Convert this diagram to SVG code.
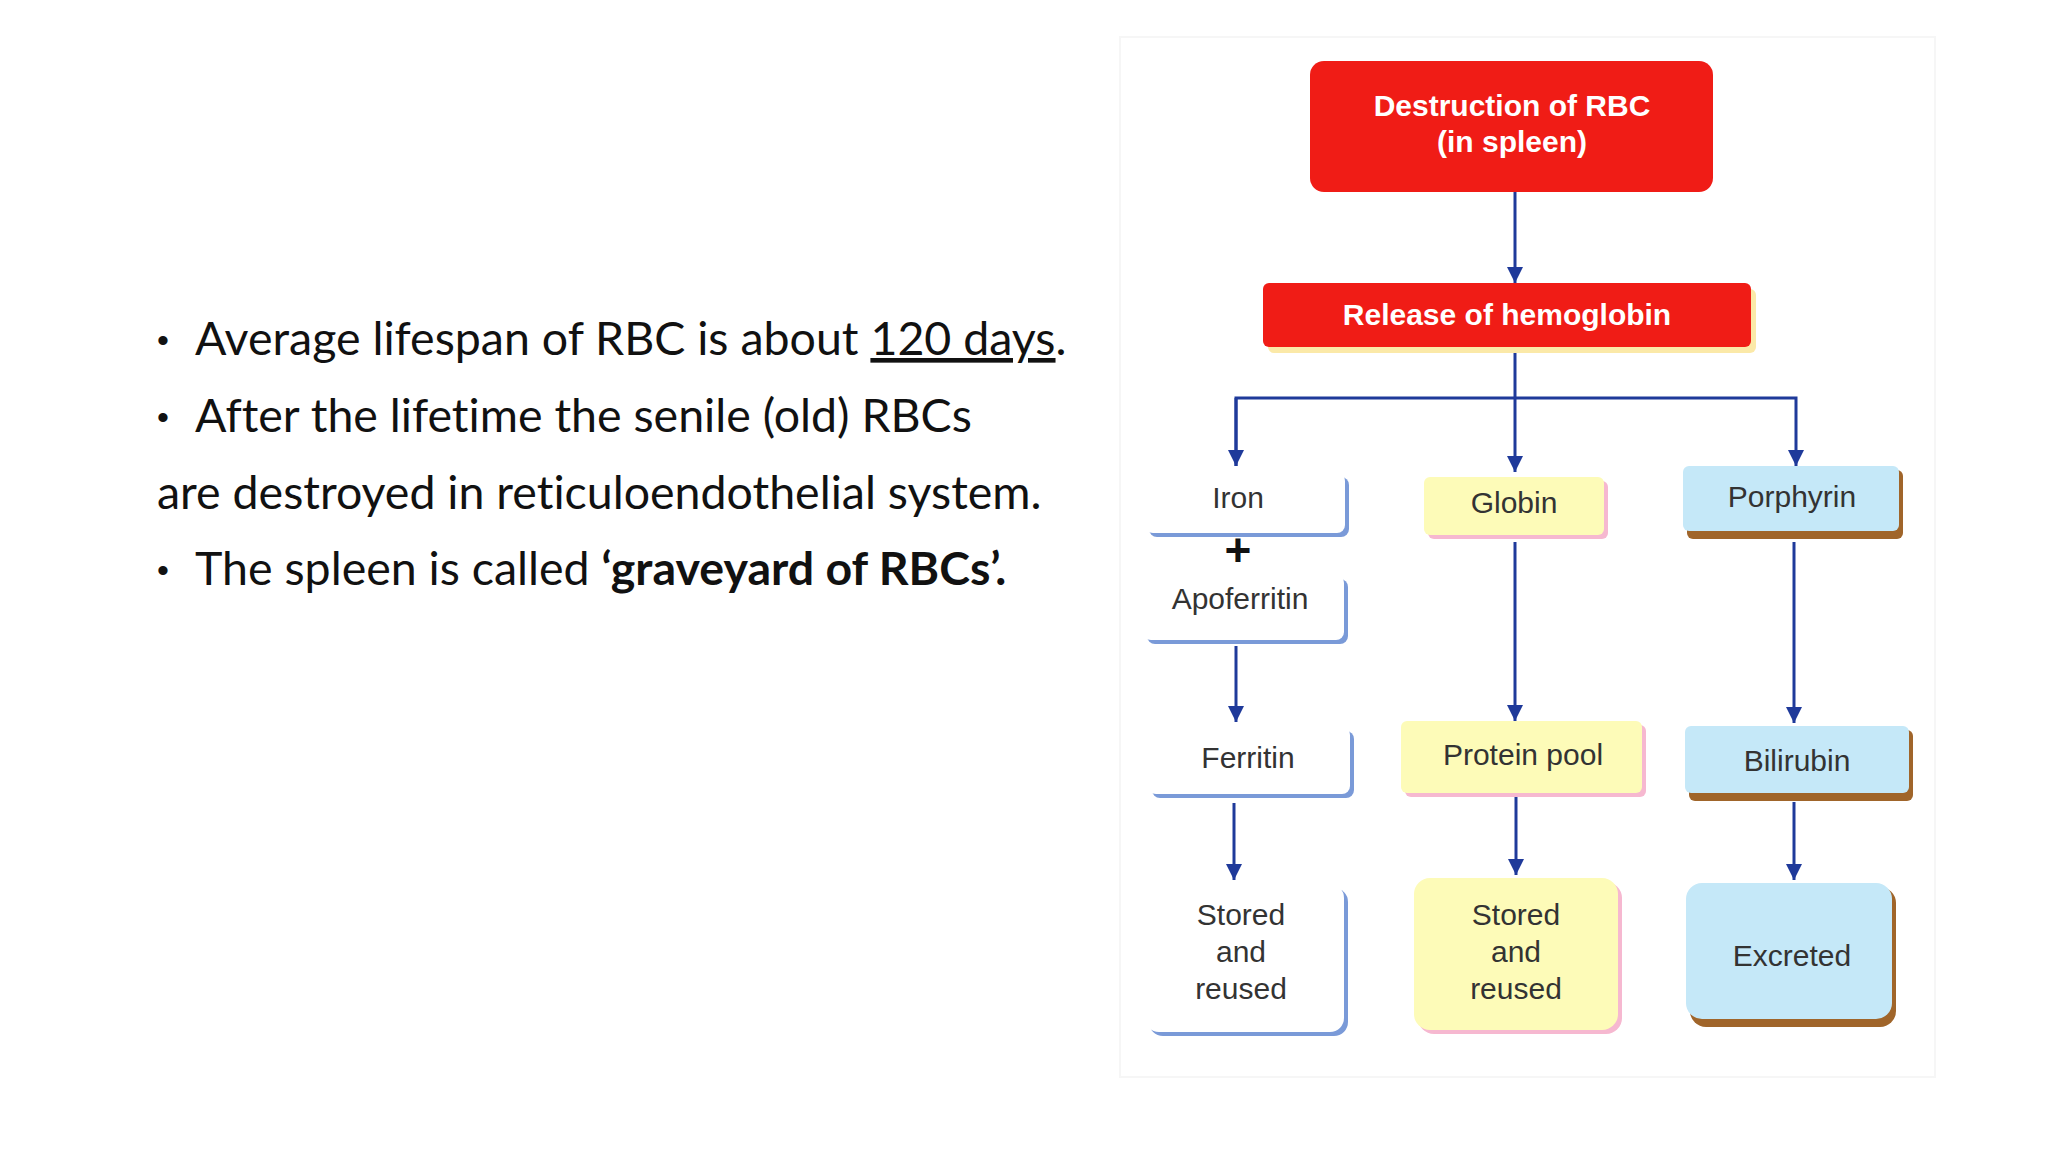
<svg xmlns="http://www.w3.org/2000/svg" width="2048" height="1152" viewBox="0 0 2048 1152">
<style>
.b{font-family:Lato,"Liberation Sans",sans-serif;font-size:46.5px;fill:#111;font-variant-ligatures:none}
.d{font-family:"Liberation Sans",sans-serif;font-size:34px;fill:#111}
.t{font-family:"Liberation Sans",Arial,sans-serif;font-size:30px;fill:#333;text-anchor:middle}
.w{font-family:"Liberation Sans",Arial,sans-serif;font-size:30px;font-weight:bold;fill:#fff;text-anchor:middle}
.c line,.c path{stroke:#1f3a9a;stroke-width:3;fill:none}
</style>
<defs>
<marker id="a" markerWidth="16" markerHeight="16" refX="14" refY="7" orient="auto" markerUnits="userSpaceOnUse" viewBox="0 0 14 14"><path d="M0,0 L14,7 L0,14 z" fill="#1f3a9a"/></marker>
</defs>
<rect width="2048" height="1152" fill="#fff"/>
<g id="bullets">
<text class="d" x="157" y="352">•</text>
<text class="b" x="195" y="355">Average lifespan of RBC is about <tspan text-decoration="underline">120 days</tspan>.</text>
<text class="d" x="157" y="429">•</text>
<text class="b" x="195" y="432">After the lifetime the senile (old) RBCs</text>
<text class="b" x="157" y="509">are destroyed in reticuloendothelial system.</text>
<text class="d" x="157" y="582">•</text>
<text class="b" x="195" y="585">The spleen is called <tspan font-weight="bold">‘graveyard of RBCs’.</tspan></text>
</g>
<rect x="1120" y="37" width="815" height="1040" fill="#fff" stroke="#f6f6f6" stroke-width="2"/>
<g class="c" id="connectors">
<line x1="1515" y1="192" x2="1515" y2="283" marker-end="url(#a)"/>
<line x1="1515" y1="347" x2="1515" y2="398"/>
<path d="M1236,466 V398 H1796 V466" marker-end="url(#a)"/>
<line x1="1236" y1="398" x2="1236" y2="466" marker-end="url(#a)"/>
<line x1="1515" y1="398" x2="1515" y2="472" marker-end="url(#a)"/>
<line x1="1236" y1="646" x2="1236" y2="722" marker-end="url(#a)"/>
<line x1="1515" y1="542" x2="1515" y2="721" marker-end="url(#a)"/>
<line x1="1794" y1="542" x2="1794" y2="723" marker-end="url(#a)"/>
<line x1="1234" y1="803" x2="1234" y2="880" marker-end="url(#a)"/>
<line x1="1516" y1="797" x2="1516" y2="875" marker-end="url(#a)"/>
<line x1="1794" y1="802" x2="1794" y2="880" marker-end="url(#a)"/>
</g>
<g id="destruction">
<rect x="1310" y="61" width="403" height="131" rx="14" fill="#f01c16"/>
<text class="w" x="1512" y="116">Destruction of RBC</text>
<text class="w" x="1512" y="152">(in spleen)</text>
</g>
<g id="release">
<rect x="1268" y="289" width="488" height="64" rx="6" fill="#fbe9a8"/>
<rect x="1263" y="283" width="488" height="64" rx="6" fill="#f01c16"/>
<text class="w" x="1507" y="325">Release of hemoglobin</text>
</g>
<g id="iron"><rect x="1149" y="477" width="200" height="60" rx="8" fill="#7a9ad8"/><rect x="1145" y="473" width="200" height="60" rx="8" fill="#fff"/><text class="t" x="1238" y="508">Iron</text></g>
<text id="plus" x="1238" y="566" font-family="Liberation Sans,sans-serif" font-size="46" font-weight="bold" fill="#111" text-anchor="middle">+</text>
<g id="apoferritin"><rect x="1147" y="579" width="201" height="65" rx="8" fill="#7a9ad8"/><rect x="1143" y="575" width="201" height="65" rx="8" fill="#fff"/><text class="t" x="1240" y="609">Apoferritin</text></g>
<g id="ferritin"><rect x="1152" y="731" width="202" height="67" rx="8" fill="#7a9ad8"/><rect x="1148" y="727" width="202" height="67" rx="8" fill="#fff"/><text class="t" x="1248" y="768">Ferritin</text></g>
<g id="stored1"><rect x="1149" y="888" width="199" height="148" rx="14" fill="#7a9ad8"/><rect x="1145" y="884" width="199" height="148" rx="14" fill="#fff"/><text class="t" x="1241" y="925">Stored</text><text class="t" x="1241" y="962">and</text><text class="t" x="1241" y="999">reused</text></g>
<g id="globin"><rect x="1428" y="481" width="180" height="58" rx="6" fill="#f6b8d0"/><rect x="1424" y="477" width="180" height="58" rx="6" fill="#fdfbb8"/><text class="t" x="1514" y="513">Globin</text></g>
<g id="proteinpool"><rect x="1405" y="725" width="241" height="72" rx="6" fill="#f6b8d0"/><rect x="1401" y="721" width="241" height="72" rx="6" fill="#fdfbb8"/><text class="t" x="1523" y="765">Protein pool</text></g>
<g id="stored2"><rect x="1418" y="882" width="204" height="152" rx="16" fill="#f6b8d0"/><rect x="1414" y="878" width="204" height="152" rx="16" fill="#fdfbb8"/><text class="t" x="1516" y="925">Stored</text><text class="t" x="1516" y="962">and</text><text class="t" x="1516" y="999">reused</text></g>
<g id="porphyrin"><rect x="1687" y="470" width="216" height="69" rx="6" fill="#a0652a"/><rect x="1683" y="466" width="216" height="65" rx="6" fill="#c5e8f8"/><text class="t" x="1792" y="507">Porphyrin</text></g>
<g id="bilirubin"><rect x="1689" y="730" width="224" height="71" rx="6" fill="#a0652a"/><rect x="1685" y="726" width="224" height="67" rx="6" fill="#c5e8f8"/><text class="t" x="1797" y="771">Bilirubin</text></g>
<g id="excreted"><rect x="1690" y="887" width="206" height="140" rx="16" fill="#a0652a"/><rect x="1686" y="883" width="206" height="136" rx="16" fill="#c5e8f8"/><text class="t" x="1792" y="966">Excreted</text></g>
</svg>
